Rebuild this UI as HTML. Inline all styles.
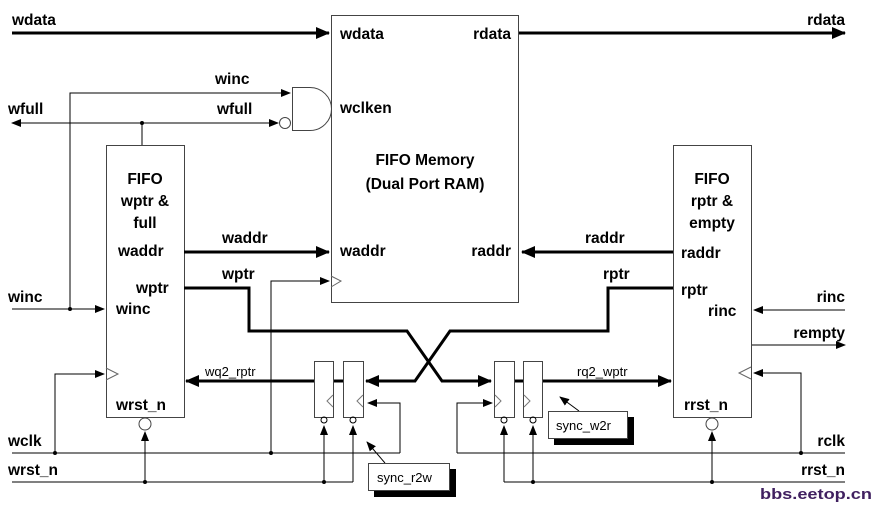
<!DOCTYPE html>
<html><head><meta charset="utf-8"><style>
body{margin:0;background:#fff}
svg{display:block}
text{font-family:"Liberation Sans",Arial,sans-serif;font-weight:bold;font-size:15.5px;fill:#000}
.s{font-size:13px;font-weight:normal}
</style></head><body>
<svg width="875" height="506" viewBox="0 0 875 506" xmlns="http://www.w3.org/2000/svg">
<defs>
<marker id="a" markerWidth="10" markerHeight="8" refX="9" refY="4" orient="auto" markerUnits="userSpaceOnUse"><path d="M0,0 L10,4 L0,8z" fill="#000"/></marker>
<marker id="b" markerWidth="14" markerHeight="12" refX="13" refY="6" orient="auto" markerUnits="userSpaceOnUse"><path d="M0,0 L14,6 L0,12z" fill="#000"/></marker>
</defs>
<g fill="none" stroke="#000">
<rect x="331.5" y="15.5" width="187" height="287" stroke="#444"/>
<rect x="106.5" y="145.5" width="78" height="272" stroke="#444"/>
<rect x="673.5" y="145.5" width="78" height="272" stroke="#444"/>
<path d="M331,276 L341,281 L331,287" stroke="#666"/>
<path d="M106,368 L118,374 L106,380" stroke="#666"/>
<path d="M751,367 L739,373 L751,379" stroke="#666"/>
<g stroke-width="3">
<line x1="12" y1="33" x2="329" y2="33" marker-end="url(#b)"/>
<line x1="519" y1="33" x2="845" y2="33" marker-end="url(#b)"/>
<line x1="184" y1="252" x2="329" y2="252" marker-end="url(#b)"/>
<line x1="673" y1="252" x2="522" y2="252" marker-end="url(#b)"/>
<polyline points="184,288 249,288 249,331 407,331 442,381 491,381" marker-end="url(#b)"/>
<polyline points="673,288 608,288 608,331 450,331 415,381 366,381" marker-end="url(#b)"/>
<line x1="314" y1="381" x2="186" y2="381" marker-end="url(#b)"/>
<line x1="543" y1="381" x2="671" y2="381" marker-end="url(#b)"/>
<line x1="334" y1="381" x2="343" y2="381"/>
<line x1="515" y1="381" x2="523" y2="381"/>
</g>
<path d="M292.5,87.5 L310,87.5 A21.5,21.5 0 0 1 310,130.5 L292.5,130.5 Z" stroke="#444"/>
<circle cx="285" cy="123" r="5.5" stroke="#444"/>
<polyline points="70,309 70,93 290,93" marker-end="url(#a)"/>
<line x1="278" y1="123" x2="12" y2="123" marker-end="url(#a)"/>
<line x1="142" y1="123" x2="278" y2="123" marker-end="url(#a)"/>
<line x1="142" y1="123" x2="142" y2="145"/>
<line x1="12" y1="309" x2="104" y2="309" marker-end="url(#a)"/>
<line x1="12" y1="453" x2="400" y2="453"/>
<polyline points="55,453 55,374 104,374" marker-end="url(#a)"/>
<polyline points="271,453 271,281 329,281" marker-end="url(#a)"/>
<polyline points="400,453 400,403 368,403" marker-end="url(#a)"/>
<line x1="12" y1="482" x2="353" y2="482"/>
<line x1="145" y1="482" x2="145" y2="432" marker-end="url(#a)"/>
<circle cx="145" cy="424" r="6" stroke="#444"/>
<line x1="324" y1="482" x2="324" y2="426" marker-end="url(#a)"/>
<line x1="353" y1="482" x2="353" y2="426" marker-end="url(#a)"/>
<rect x="314.5" y="361.5" width="19" height="56" stroke="#444"/>
<rect x="343.5" y="361.5" width="20" height="56" stroke="#444"/>
<rect x="494.5" y="361.5" width="20" height="56" stroke="#444"/>
<rect x="523.5" y="361.5" width="19" height="56" stroke="#444"/>
<path d="M333,395 L327,401 L333,407" stroke="#777"/>
<path d="M363,395 L357,401 L363,407" stroke="#777"/>
<path d="M495,395 L501,401 L495,407" stroke="#777"/>
<path d="M524,395 L530,401 L524,407" stroke="#777"/>
<circle cx="324" cy="420" r="3"/><circle cx="353" cy="420" r="3"/>
<circle cx="504" cy="420" r="3"/><circle cx="533" cy="420" r="3"/>
<line x1="457" y1="453" x2="845" y2="453"/>
<polyline points="457,453 457,403 492,403" marker-end="url(#a)"/>
<polyline points="801,453 801,373 754,373" marker-end="url(#a)"/>
<line x1="504" y1="482" x2="845" y2="482"/>
<line x1="504" y1="482" x2="504" y2="426" marker-end="url(#a)"/>
<line x1="533" y1="482" x2="533" y2="426" marker-end="url(#a)"/>
<line x1="712" y1="482" x2="712" y2="432" marker-end="url(#a)"/>
<circle cx="712" cy="424" r="6" stroke="#444"/>
<line x1="845" y1="310" x2="754" y2="310" marker-end="url(#a)"/>
<line x1="752" y1="345" x2="845" y2="345" marker-end="url(#a)"/>
<line x1="385" y1="463" x2="367" y2="442" marker-end="url(#a)"/>
<line x1="579" y1="411" x2="560" y2="397" marker-end="url(#a)"/>
</g>
<g fill="#000">
<circle cx="142" cy="123" r="2"/><circle cx="70" cy="309" r="2"/>
<circle cx="55" cy="453" r="2"/><circle cx="271" cy="453" r="2"/>
<circle cx="145" cy="482" r="2"/><circle cx="324" cy="482" r="2"/>
<circle cx="801" cy="453" r="2"/><circle cx="533" cy="482" r="2"/><circle cx="712" cy="482" r="2"/>
<rect x="374" y="469" width="82" height="28"/>
<rect x="554" y="417" width="80" height="28"/>
</g>
<rect x="368.5" y="463.5" width="81" height="27" fill="#fff" stroke="#444"/>
<rect x="548.5" y="411.5" width="79" height="27" fill="#fff" stroke="#444"/>
<text class="s" x="377" y="482">sync_r2w</text>
<text class="s" x="556" y="430">sync_w2r</text>
<text class="s" x="205" y="376">wq2_rptr</text>
<text class="s" x="577" y="376">rq2_wptr</text>
<text x="12" y="25">wdata</text>
<text x="845" y="25" text-anchor="end">rdata</text>
<text x="215" y="84">winc</text>
<text x="217" y="114">wfull</text>
<text x="8" y="114">wfull</text>
<text x="340" y="39">wdata</text>
<text x="511" y="39" text-anchor="end">rdata</text>
<text x="340" y="113">wclken</text>
<text x="425" y="165" text-anchor="middle">FIFO Memory</text>
<text x="425" y="189" text-anchor="middle">(Dual Port RAM)</text>
<text x="340" y="256">waddr</text>
<text x="511" y="256" text-anchor="end">raddr</text>
<text x="145" y="184" text-anchor="middle">FIFO</text>
<text x="145" y="206" text-anchor="middle">wptr &amp;</text>
<text x="145" y="228" text-anchor="middle">full</text>
<text x="118" y="256">waddr</text>
<text x="136" y="293">wptr</text>
<text x="116" y="314">winc</text>
<text x="116" y="410">wrst_n</text>
<text x="222" y="243">waddr</text>
<text x="222" y="279">wptr</text>
<text x="585" y="243">raddr</text>
<text x="603" y="279">rptr</text>
<text x="712" y="184" text-anchor="middle">FIFO</text>
<text x="712" y="206" text-anchor="middle">rptr &amp;</text>
<text x="712" y="228" text-anchor="middle">empty</text>
<text x="681" y="258">raddr</text>
<text x="681" y="295">rptr</text>
<text x="708" y="316">rinc</text>
<text x="684" y="410">rrst_n</text>
<text x="8" y="302">winc</text>
<text x="845" y="302" text-anchor="end">rinc</text>
<text x="845" y="338" text-anchor="end">rempty</text>
<text x="8" y="446">wclk</text>
<text x="8" y="475">wrst_n</text>
<text x="845" y="446" text-anchor="end">rclk</text>
<text x="845" y="475" text-anchor="end">rrst_n</text>
<text x="760" y="499" style="fill:#402060;font-size:15px;font-family:'Liberation Sans Narrow','Liberation Sans',sans-serif" textLength="112" lengthAdjust="spacingAndGlyphs">bbs.eetop.cn</text>
</svg>
</body></html>
